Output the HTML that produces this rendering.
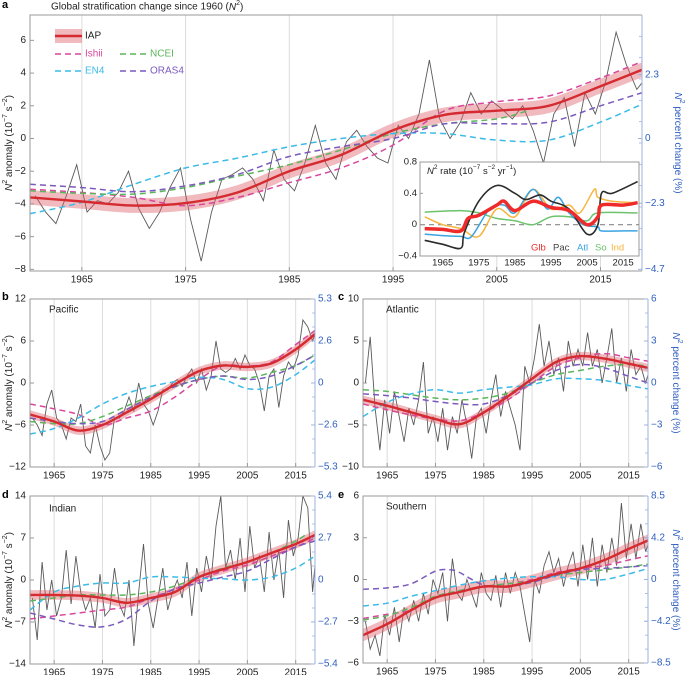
<!DOCTYPE html>
<html><head><meta charset="utf-8">
<style>
html,body{margin:0;padding:0;background:#fff;}
svg{display:block;font-family:"Liberation Sans",sans-serif;}
</style></head>
<body>
<svg id="fig" width="685" height="675" viewBox="0 0 685 675" xmlns="http://www.w3.org/2000/svg"></svg>
<script>
// ---------- DATA ----------
const knotYears = [1960,1965,1970,1975,1980,1985,1990,1995,2000,2005,2010,2015,2019];
const grayYears = [];
for (let y = 1960; y <= 2019; y++) grayYears.push(y);

// Panel a (global)
const aIAP   = [-3.6,-3.85,-4.1,-3.95,-3.3,-2.0,-1.0,0.5,1.45,1.7,2.0,3.2,4.2];
const aIshii = [-3.1,-3.3,-3.6,-4.1,-3.6,-2.7,-1.8,-0.4,1.7,2.25,2.6,3.7,4.7];
const aNCEIyears = [1960,1965,1970,1975,1980,1985,1990,1995,2000,2005,2008];
const aNCEI  = [-3.2,-3.35,-3.4,-3.0,-2.3,-1.6,-0.7,0.3,0.9,1.2,1.7];
const aEN4   = [-4.6,-3.9,-2.8,-1.8,-1.2,-0.5,0.0,0.3,0.3,-0.1,-0.1,1.0,2.1];
const aORAS4 = [-2.8,-3.0,-3.25,-2.9,-2.2,-1.1,-0.5,0.0,0.9,0.9,1.0,2.0,2.8];
const aGray  = [-3.5,-4.5,-5.2,-3.5,-1.6,-4.5,-3.8,-4.0,-3.3,-2.0,-4.3,-5.5,-4.5,-3.0,-1.8,-5.0,-7.5,-4.5,-2.5,-2.2,-1.8,-2.5,-3.8,-0.7,-2.5,-3.2,-1.5,0.8,-1.5,-2.5,-0.2,0.5,-0.5,-1.2,-1.5,0.8,0.0,1.5,4.8,1.2,0.0,1.0,2.8,1.5,2.3,1.8,1.2,2.0,0.5,-1.5,1.5,2.5,-0.5,2.8,1.5,3.5,6.5,4.5,3.0,3.8];

// Inset rates
const glbYears = [1960,1965,1970,1972,1975,1980,1982,1985,1990,1995,2000,2005,2008,2009,2015,2019];
const glbRate  = [-0.05,-0.06,-0.08,0.08,0.12,0.25,0.3,0.18,0.3,0.22,0.18,0.0,0.1,0.25,0.25,0.28];
const pacYears = [1960,1965,1970,1971,1975,1980,1985,1988,1992,1995,2000,2005,2008,2009,2012,2019];
const pacRate  = [-0.2,-0.25,-0.3,-0.1,0.3,0.5,0.4,0.32,0.38,0.3,0.2,-0.12,0.0,0.4,0.4,0.55];
const atlYears = [1960,1965,1970,1973,1978,1982,1985,1990,1994,1997,2000,2004,2008,2009,2015,2019];
const atlRate  = [-0.12,-0.14,-0.15,-0.15,0.2,0.25,0.15,0.45,0.2,0.35,0.15,0.0,-0.03,-0.08,-0.08,-0.08];
const soYears  = [1960,1970,1975,1980,1985,1990,1995,2000,2005,2008,2019];
const soRate   = [0.16,0.18,0.15,0.08,0.05,0.0,0.1,0.1,0.05,0.15,0.15];
const indYears = [1960,1965,1970,1975,1980,1985,1990,1995,2000,2003,2007,2008,2012,2019];
const indRate  = [0.1,0.0,-0.05,-0.15,0.2,0.1,0.45,0.2,0.25,0.15,0.45,0.35,0.3,0.28];

// Panel b Pacific
const bIAP   = [-4.5,-5.5,-6.8,-6.0,-4.2,-2.3,-0.2,1.7,2.5,2.3,2.8,4.8,7.0];
const bIshii = [-3.0,-3.7,-4.5,-6.0,-5.0,-4.0,-2.0,0.5,2.5,2.4,3.0,5.5,7.5];
const bNCEI  = [-5.5,-5.8,-5.8,-4.8,-3.3,-1.8,-0.5,0.5,1.0,0.7,1.5,2.5,4.0];
const bEN4   = [-7.3,-6.5,-5.0,-3.0,-1.5,-0.5,0.2,0.8,0.5,-0.8,-0.6,1.2,3.3];
const bORAS4 = [-5.0,-5.5,-5.8,-5.5,-3.8,-2.0,-0.5,0.5,1.0,0.5,1.0,2.5,4.0];
const bGray  = [-5,-6,-7.5,-3,-1,-5,-6,-8,-5,-5.5,-3,-9,-10,-6,-9,-11,-10,-5,-5,-4,-2,-4,0,-3,-4,-6,-4,-1,-1,0,0.5,-0.5,1,2,0,2,-1,1,6,2,1.5,2,3.5,2,4,2.5,2,0,-4,1,2,-3.5,1,3,2,4,9,8,6,8];

// Panel c Atlantic
const cIAP   = [-2.0,-2.7,-3.5,-4.3,-4.9,-3.5,-1.6,0.5,2.5,3.2,2.9,2.3,1.8];
const cIshii = [-2.5,-3.2,-3.8,-4.3,-4.5,-3.5,-2.0,0.0,2.0,3.0,3.5,3.0,2.6];
const cNCEI  = [-0.8,-1.0,-1.4,-1.8,-2.0,-1.8,-1.2,0.0,1.0,1.5,2.0,2.2,2.0];
const cEN4   = [-4.0,-2.3,-1.3,-0.8,-1.2,-0.8,-0.5,-0.2,0.5,0.5,0.3,-0.3,-0.7];
const cORAS4 = [-1.3,-1.5,-1.8,-2.2,-2.5,-2.5,-1.5,0.0,1.5,2.2,1.8,0.8,0.0];
const cGray  = [0,5.5,-3,-8,-2,-6,-1,-4,-7,-3,-5,-2,2.5,-6,-4,-7,-3,-8,-4,-6,-2,-5,-9,-4,-3,-6,-2,1,-4,-1,-3,-5,-8,2,0,3,7,2,5,1,3,-1,5,2,4,2,6,2,4,0,3,6.5,0,3,-1,4,1,2,0,2];

// Panel d Indian
const dIAP   = [-2.5,-2.5,-2.6,-3.0,-3.8,-3.0,-2.0,0.5,1.8,3.0,4.5,6.0,7.5];
const dIshii = [-6.5,-6.0,-5.5,-5.0,-4.5,-3.0,-1.5,0.0,1.5,2.5,4.0,5.5,7.0];
const dNCEIyears = [1960,1965,1970,1975,1980,1985,1990,1995,2000,2005,2010,2015,2017];
const dNCEI  = [-3.5,-3.0,-2.5,-2.5,-2.5,-2.0,-1.0,0.5,2.0,3.0,4.5,6.5,7.5];
const dEN4   = [-5.0,-2.0,-1.0,-0.5,-0.5,0.5,0.5,0.3,0.2,0.0,0.5,2.0,4.0];
const dORAS4 = [-5.5,-6.5,-7.5,-7.8,-6.5,-3.5,-1.5,-0.5,0.5,1.5,3.5,5.5,6.5];
const dGray  = [-3,-10,3,-5,0,-6,-3,5,-4,4,-2,-5,-3,-8,1,-6,-5,2,-4,-6,0,-11,-2,6,-4,-8,-3,2,-5,-2,0,-3,3,-6,2,-2,4,0,9,14,2,5,0,7,-2,9,2,4,-2,8,0,5,-3,10,4,7,14,12,-2,7];

// Panel e Southern
const eIAP   = [-4.0,-3.2,-2.2,-1.3,-0.9,-0.5,-0.5,-0.1,0.4,0.8,1.4,2.2,2.8];
const eIshii = [-2.8,-2.5,-2.2,-1.3,-0.8,-0.5,-0.3,0.0,0.5,0.8,1.0,1.4,1.7];
const eNCEI  = [-2.9,-2.6,-2.0,-1.2,-0.8,-0.5,-0.3,-0.1,0.3,0.5,0.7,0.9,1.1];
const eEN4   = [-1.9,-1.7,-1.2,-0.8,-0.4,-0.1,0.1,0.2,0.2,0.0,0.0,0.4,0.8];
const eORAS4years = [1960,1965,1970,1975,1978,1980,1985,1990,1995,2000,2005,2010,2015,2019];
const eORAS4 = [-0.7,-0.6,-0.3,0.6,0.7,0.5,-0.4,-0.5,-0.2,0.3,0.7,0.8,0.9,1.0];
const eGray  = [-3,-5,-4,-5.5,-2.5,-4,-2,-4.5,-2,-3,-1.5,-3,-1,-2.5,0,-1,0.5,-3,1.5,-1,-1.5,0,-1,-2,0.5,-1,-1.5,0.3,-2,0.5,-1,0.5,-0.5,-2.5,-4.5,0,-1,1,2,0.5,1.5,-0.5,1,2,-0.5,2.5,0,3,-0.5,2.5,0.5,3,1,5.5,1.5,4,1.5,4,2,3];

const xTickYears = [1965,1975,1985,1995,2005,2015];

// ---------- DRAWING ----------
const NS = "http://www.w3.org/2000/svg";
const svg = document.getElementById('fig');
const C = {iap:'#d42a30', band:'rgba(220,90,100,0.42)', ishii:'#d9479c', ncei:'#5bb65b', en4:'#3cbbe8', oras:'#7b59bd', gray:'#5a5a5a', blue:'#2f5fbf', axis:'#999'};

function el(tag, attrs, parent) {
  const e = document.createElementNS(NS, tag);
  for (const k in attrs) e.setAttribute(k, attrs[k]);
  (parent || svg).appendChild(e);
  return e;
}
function txt(x, y, s, size, fill, anchor, parent, name) {
  const t = el('text', {x:x, y:y, 'font-size':size, fill:fill, 'text-anchor':anchor||'start', 'dominant-baseline':'middle'}, parent);
  t.textContent = s;
  
  
  return t;
}
function smooth(pts) {
  if (pts.length < 2) return '';
  let d = 'M' + pts[0][0].toFixed(1) + ',' + pts[0][1].toFixed(1);
  for (let i = 0; i < pts.length - 1; i++) {
    const p0 = pts[i-1] || pts[i], p1 = pts[i], p2 = pts[i+1], p3 = pts[i+2] || p2;
    const c1 = [p1[0] + (p2[0]-p0[0])/6, p1[1] + (p2[1]-p0[1])/6];
    const c2 = [p2[0] - (p3[0]-p1[0])/6, p2[1] - (p3[1]-p1[1])/6];
    d += 'C' + c1[0].toFixed(1)+','+c1[1].toFixed(1)+' '+c2[0].toFixed(1)+','+c2[1].toFixed(1)+' '+p2[0].toFixed(1)+','+p2[1].toFixed(1);
  }
  return d;
}
function makeAxes(P) {
  const sx = v => P.L + (v - P.x0) / (P.x1 - P.x0) * (P.R - P.L);
  const sy = v => P.B - (v - P.y0) / (P.y1 - P.y0) * (P.B - P.T);
  return {sx, sy};
}

function panel(P) {
  const g = el('g', {});
  
  
  const {sx, sy} = makeAxes(P);
  const clipId = P.name + '-clip';
  const cp = el('clipPath', {id: clipId}, g);
  el('rect', {x:P.L, y:P.T, width:P.R-P.L, height:P.B-P.T}, cp);
  xTickYears.forEach(yr => {
    const l = el('line', {x1:sx(yr), x2:sx(yr), y1:P.T, y2:P.B, stroke:'#dcdcdc', 'stroke-width':1}, g);
    
    
  });
  const plot = el('g', {'clip-path':'url(#'+clipId+')'}, g);
  const gp = el('polyline', {points: grayYears.map((yr,i)=>sx(yr+0.5).toFixed(1)+','+sy(P.gray[i]).toFixed(1)).join(' '), fill:'none', stroke:C.gray, 'stroke-width':0.9}, plot);
  
  
  const up = knotYears.map((yr,i)=>[sx(yr), sy(P.iap[i]+P.bw)]);
  const lo = knotYears.map((yr,i)=>[sx(yr), sy(P.iap[i]-P.bw)]).reverse();
  const bd = smooth(up) + ' L' + smooth(lo).slice(1) + 'Z';
  const band = el('path', {d: bd, fill:C.band, stroke:'none'}, plot);
  
  
  const series = [
    ['ishii-line', P.ishiiY || knotYears, P.ishii, C.ishii],
    ['ncei-line', P.nceiY || knotYears, P.ncei, C.ncei],
    ['en4-line', P.en4Y || knotYears, P.en4, C.en4],
    ['oras4-line', P.orasY || knotYears, P.oras, C.oras]
  ];
  series.forEach(s => {
    const p = el('path', {d: smooth(s[1].map((yr,i)=>[sx(yr), sy(s[2][i])])), fill:'none', stroke:s[3], 'stroke-width':1.5, 'stroke-dasharray':'6,4'}, plot);
    
    
  });
  const ip = el('path', {d: smooth(knotYears.map((yr,i)=>[sx(yr), sy(P.iap[i])])), fill:'none', stroke:C.iap, 'stroke-width':2.4}, plot);
  
  
  const fr = el('path', {d:`M${P.R},${P.T}H${P.L}V${P.B}H${P.R}`, fill:'none', stroke:C.axis, 'stroke-width':1}, g);
  
  
  const ra = el('line', {x1:P.R, x2:P.R, y1:P.T, y2:P.B, stroke:'#9db3de', 'stroke-width':1}, g);
  
  
  P.yTicks.forEach(v => {
    el('line', {x1:P.L, x2:P.L+4, y1:sy(v), y2:sy(v), stroke:C.axis}, g);
    txt(P.L-4, sy(v), (v<0?'\u2212'+(-v):''+v), 10, '#222', 'end', g, 'y-tick-label');
  });
  P.rTicks.forEach((lab,i) => {
    const v = P.rPos[i];
    el('line', {x1:P.R-4, x2:P.R, y1:sy(v), y2:sy(v), stroke:'#9db3de'}, g);
    txt(P.R+3, sy(v), lab, 10, C.blue, 'start', g, 'right-tick-label');
  });
  const nMinor = 12;
  for (let k = 1; k < nMinor; k++) {
    const yy = P.T + k*(P.B-P.T)/nMinor;
    el('line', {x1:P.R-3, x2:P.R, y1:yy, y2:yy, stroke:'#9db3de', 'stroke-width':0.8}, g);
  }
  xTickYears.forEach(yr => {
    el('line', {x1:sx(yr), x2:sx(yr), y1:P.B-4, y2:P.B, stroke:C.axis}, g);
    txt(sx(yr), P.B+9, ''+yr, 10, '#222', 'middle', g, 'x-tick-label');
  });
  if (P.title) txt(P.tx, P.ty, P.title, 10, '#222', 'start', g, 'panel-title');
  return {g, sx, sy};
}

const A = panel({name:'panel-a-global', L:30, R:642, T:15, B:271, x0:1960, x1:2019, y0:-8.1, y1:7.55,
  gray:aGray, iap:aIAP, ishii:aIshii, ncei:aNCEI, nceiY:aNCEIyears, en4:aEN4, oras:aORAS4, bw:0.45,
  yTicks:[-8,-6,-4,-2,0,2,4,6], rTicks:['\u22124.7','\u22122.3','0','2.3'], rPos:[-8,-3.96,0,3.9]});
const B = panel({name:'panel-b-pacific', L:30, R:315, T:299, B:467, x0:1960, x1:2019, y0:-12, y1:12,
  gray:bGray, iap:bIAP, ishii:bIshii, ncei:bNCEI, en4:bEN4, oras:bORAS4, bw:0.6,
  yTicks:[-12,-6,0,6,12], rTicks:['\u22125.3','\u22122.6','0','2.6','5.3'], rPos:[-12,-6,0,6,12], title:'Pacific', tx:49, ty:310});
const Cp = panel({name:'panel-c-atlantic', L:363, R:648, T:299, B:467, x0:1960, x1:2019, y0:-10, y1:10,
  gray:cGray, iap:cIAP, ishii:cIshii, ncei:cNCEI, en4:cEN4, oras:cORAS4, bw:0.5,
  yTicks:[-10,-5,0,5,10], rTicks:['\u22126','\u22123','0','3','6'], rPos:[-10,-5,0,5,10], title:'Atlantic', tx:386, ty:310});
const D = panel({name:'panel-d-indian', L:30, R:315, T:496, B:664, x0:1960, x1:2019, y0:-14, y1:14,
  gray:dGray, iap:dIAP, ishii:dIshii, ncei:dNCEI, nceiY:dNCEIyears, en4:dEN4, oras:dORAS4, bw:0.8,
  yTicks:[-14,-7,0,7,14], rTicks:['\u22125.4','\u22122.7','0','2.7','5.4'], rPos:[-14,-7,0,7,14], title:'Indian', tx:49, ty:509});
const E = panel({name:'panel-e-southern', L:363, R:648, T:496, B:663, x0:1960, x1:2019, y0:-6, y1:6,
  gray:eGray, iap:eIAP, ishii:eIshii, ncei:eNCEI, en4:eEN4, oras:eORAS4, orasY:eORAS4years, bw:0.45,
  yTicks:[-6,-3,0,3,6], rTicks:['\u22128.5','\u22124.2','0','4.2','8.5'], rPos:[-6,-3,0,3,6], title:'Southern', tx:386, ty:507});

[['a',2,5],['b',2,297],['c',338,297],['d',2,495],['e',338,495]].forEach(p => {
  const t = txt(p[1], p[2], p[0], 11, '#000', 'start', svg, 'panel-letter');
  t.setAttribute('font-weight','bold');
});
const gt = txt(51, 7, '', 10, '#222', 'start', svg, 'main-title');
gt.innerHTML = 'Global stratification change since 1960 (<tspan font-style="italic">N</tspan><tspan font-size="7" dy="-4">2</tspan><tspan dy="4">)</tspan>';

function yTitle(x, y, rot, html, fill, name) {
  const t = el('text', {x:0, y:0, transform:`translate(${x},${y}) rotate(${rot})`, 'font-size':10, fill:fill, 'text-anchor':'middle', 'dominant-baseline':'middle'});
  t.innerHTML = html;
  
  
}
const leftT = '<tspan font-style="italic">N</tspan><tspan font-size="7" dy="-4">2</tspan><tspan dy="4"> anomaly (10</tspan><tspan font-size="7" dy="-4">\u22127</tspan><tspan dy="4"> s</tspan><tspan font-size="7" dy="-4">\u22122</tspan><tspan dy="4">)</tspan>';
const rightT = '<tspan font-style="italic">N</tspan><tspan font-size="7" dy="-4">2</tspan><tspan dy="4"> percent change (%)</tspan>';
yTitle(9, 143, -90, leftT, '#222', 'y-axis-title-left');
yTitle(9, 383, -90, leftT, '#222', 'y-axis-title-left');
yTitle(9, 580, -90, leftT, '#222', 'y-axis-title-left');
yTitle(678, 143, 90, rightT, C.blue, 'y-axis-title-right');
yTitle(676, 383, 90, rightT, C.blue, 'y-axis-title-right');
yTitle(676, 580, 90, rightT, C.blue, 'y-axis-title-right');

const lg = el('g', {});


el('rect', {x:55, y:29, width:27, height:14, fill:C.band}, lg);
el('line', {x1:55, x2:82, y1:36, y2:36, stroke:C.iap, 'stroke-width':2.4}, lg);
txt(85, 36, 'IAP', 10, '#222', 'start', lg, 'legend-entry-iap');
[['Ishii',55,54,C.ishii],['NCEI',120,54,C.ncei],['EN4',55,71,C.en4],['ORAS4',120,71,C.oras]].forEach(l => {
  el('line', {x1:l[1], x2:l[1]+27, y1:l[2], y2:l[2], stroke:l[3], 'stroke-width':1.5, 'stroke-dasharray':'6,4'}, lg);
  txt(l[1]+30, l[2], l[0], 10, l[3], 'start', lg, 'legend-entry-' + l[0].toLowerCase());
});

const I = {L:420, R:639, T:162, B:256, x0:1958.7, x1:2019.4, y0:-0.4, y1:0.8};
const ig = el('g', {});


const isx = v => I.L + (v - I.x0)/(I.x1-I.x0)*(I.R-I.L);
const isy = v => I.B - (v - I.y0)/(I.y1-I.y0)*(I.B-I.T);
el('rect', {x:I.L, y:I.T, width:I.R-I.L, height:I.B-I.T, fill:'#fff', stroke:C.axis}, ig);
const icp = el('clipPath', {id:'inset-clip'}, ig);
el('rect', {x:I.L, y:I.T, width:I.R-I.L, height:I.B-I.T}, icp);
const iplot = el('g', {'clip-path':'url(#inset-clip)'}, ig);
el('line', {x1:I.L, x2:I.R, y1:isy(0), y2:isy(0), stroke:'#888', 'stroke-width':1.2, 'stroke-dasharray':'5,4'}, iplot);
[['so-rate-line',soYears,soRate,'#6cc36c',1.5],['ind-rate-line',indYears,indRate,'#f6b53e',1.5],['atl-rate-line',atlYears,atlRate,'#3aa3e0',1.5],['pac-rate-line',pacYears,pacRate,'#2b2b2b',1.6],['glb-rate-line',glbYears,glbRate,'#ee2a2a',3.5]].forEach(s => {
  const p = el('path', {d: smooth(s[1].map((yr,i)=>[isx(yr), isy(s[2][i])])), fill:'none', stroke:s[3], 'stroke-width':s[4]}, iplot);
  
  
});
[-0.4,0,0.4,0.8].forEach(v => {
  el('line', {x1:I.L, x2:I.L+3, y1:isy(v), y2:isy(v), stroke:C.axis}, ig);
  txt(I.L-3, isy(v), v<0?'\u2212'+(-v):''+v, 9.5, '#222', 'end', ig, 'inset-y-tick-label');
});
xTickYears.forEach(yr => txt(isx(yr), 263, ''+yr, 9.5, '#222', 'middle', ig, 'inset-x-tick-label'));
const itl = txt(427, 171, '', 9.5, '#222', 'start', ig, 'inset-title');
itl.innerHTML = '<tspan font-style="italic">N</tspan><tspan font-size="6.5" dy="-4">2</tspan><tspan dy="4"> rate (10</tspan><tspan font-size="6.5" dy="-4">\u22127</tspan><tspan dy="4"> s</tspan><tspan font-size="6.5" dy="-4">\u22122</tspan><tspan dy="4"> yr</tspan><tspan font-size="6.5" dy="-4">\u22121</tspan><tspan dy="4">)</tspan>';
[['Glb',531,'#ee2a2a'],['Pac',553,'#444'],['Atl',577,'#3aa3e0'],['So',595,'#6cc36c'],['Ind',611,'#f6b53e']].forEach(l => {
  txt(l[1], 248, l[0], 9.5, l[2], 'start', ig, 'inset-legend-' + l[0].toLowerCase());
});
</script>
</body></html>
